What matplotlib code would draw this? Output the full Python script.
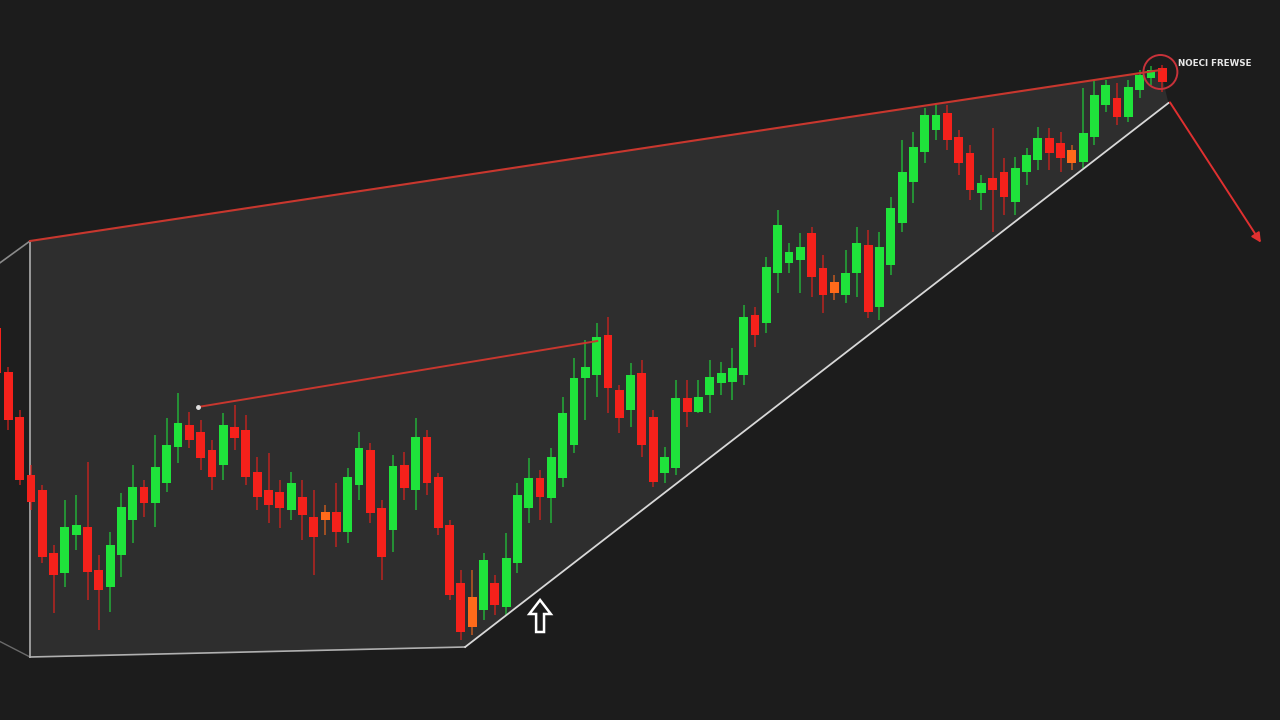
import matplotlib
matplotlib.use("Agg")
from matplotlib import pyplot as plt
from matplotlib.patches import Polygon, Ellipse, FancyArrow
import numpy as np

## candle data (price units), one entry per session
opens = [392, 348, 303, 245, 230, 167, 147, 185, 193, 150, 133, 165, 200, 233, 217, 237, 273, 295, 288, 270,
         255, 293, 290, 248, 230, 228, 210, 223, 203, 208, 208, 188, 235, 270, 212, 190, 255, 230, 283, 243,
         195, 137, 123, 110, 137, 113, 157, 212, 242, 222, 242, 275, 342, 345, 385, 330, 310, 347, 303, 247,
         252, 322, 308, 325, 337, 338, 345, 405, 397, 447, 457, 460, 487, 452, 438, 425, 447, 475, 413, 455,
         497, 538, 568, 590, 607, 583, 567, 527, 542, 548, 518, 548, 560, 582, 577, 570, 558, 583, 615, 622,
         603, 630, 642, 652]
closes = [347, 300, 240, 218, 163, 145, 193, 195, 148, 130, 175, 213, 233, 217, 253, 275, 297, 280, 262, 243,
          295, 282, 243, 223, 215, 212, 237, 205, 183, 200, 188, 243, 272, 207, 163, 254, 232, 283, 237, 192,
          125, 88, 93, 160, 115, 162, 225, 242, 223, 263, 307, 342, 353, 383, 332, 302, 345, 275, 238, 263,
          322, 308, 323, 343, 347, 352, 403, 385, 453, 495, 468, 473, 443, 425, 427, 447, 477, 408, 473, 512,
          548, 573, 605, 605, 580, 557, 530, 537, 530, 523, 552, 565, 582, 567, 562, 557, 587, 625, 635, 603,
          633, 645, 650, 638]
highs = [400, 353, 310, 255, 235, 175, 220, 225, 258, 165, 188, 227, 255, 240, 285, 302, 327, 308, 300, 280,
         307, 315, 305, 263, 267, 240, 248, 240, 230, 215, 237, 252, 288, 277, 220, 265, 268, 302, 290, 247,
         200, 150, 150, 167, 145, 187, 237, 262, 250, 272, 323, 362, 380, 397, 403, 335, 357, 360, 310, 273,
         340, 340, 340, 360, 358, 372, 415, 413, 463, 510, 477, 487, 493, 465, 445, 470, 493, 490, 488, 523,
         580, 588, 612, 615, 615, 590, 575, 545, 592, 562, 563, 572, 593, 592, 588, 575, 632, 640, 640, 637,
         640, 650, 654, 655]
lows = [340, 290, 235, 210, 157, 107, 133, 170, 120, 90, 108, 143, 177, 203, 193, 228, 257, 272, 250, 230,
        240, 270, 235, 210, 197, 192, 200, 180, 145, 185, 173, 177, 220, 197, 140, 168, 220, 210, 225, 185,
        120, 80, 85, 100, 105, 105, 147, 197, 200, 197, 233, 267, 300, 323, 307, 287, 293, 263, 233, 237,
        245, 293, 307, 307, 325, 320, 335, 373, 387, 427, 447, 427, 423, 407, 420, 417, 423, 402, 400, 445,
        488, 517, 557, 580, 570, 545, 520, 510, 488, 505, 505, 535, 550, 550, 548, 550, 552, 575, 608, 595,
        598, 622, 635, 628]
## near-doji sessions drawn in orange
orange_idx = [29, 42, 74, 95]

## chart overlay geometry (session index, price)
wedge_pts = [(2.92, 479), (102.83, 650), (103.54, 617), (41.38, 73), (2.92, 63)]
side_pts = [(0.0, 455), (2.92, 479), (2.92, 63), (0.0, 80)]
inner_line = [(17.77, 313), (53.05, 379)]
circle_center = (102.83, 648)
break_arrow = [(103.54, 620), (111.85, 475)]
up_arrow_base = (48.0, 88)
label_text = "NOECI FREWSE"

BG = "#1c1c1c"
FILL = "#2e2e2e"
GREEN = "#1fe33b"
RED = "#f5211b"
ORANGE = "#ff6a1a"

fig = plt.figure(figsize=(12.8, 7.2), dpi=100, facecolor=BG)
ax = fig.add_axes([0, 0, 1, 1])
ax.set_facecolor(BG)
ax.axis("off")

## wedge shading and outline
ax.add_patch(Polygon(side_pts, closed=True, fc="#1e1e1e", ec="none", zorder=0))
ax.add_patch(Polygon(wedge_pts, closed=True, fc=FILL, ec="none", zorder=0))
ax.plot([side_pts[0][0], side_pts[1][0]], [side_pts[0][1], side_pts[1][1]], color="#8a8a8a", lw=1.2, zorder=1)
ax.plot([side_pts[3][0], side_pts[2][0]], [side_pts[3][1], side_pts[2][1]], color="#6a6a6a", lw=1.0, zorder=1)
ax.plot([wedge_pts[0][0], wedge_pts[4][0]], [wedge_pts[0][1], wedge_pts[4][1]], color="#9a9a9a", lw=1.4, zorder=1)
ax.plot([wedge_pts[4][0], wedge_pts[3][0]], [wedge_pts[4][1], wedge_pts[3][1]], color="#b0b0b0", lw=1.2, zorder=1)
ax.plot([wedge_pts[3][0], wedge_pts[2][0]], [wedge_pts[3][1], wedge_pts[2][1]], color="#d8d8d8", lw=1.3, zorder=4)
ax.plot([wedge_pts[0][0], wedge_pts[1][0]], [wedge_pts[0][1], wedge_pts[1][1]], color="#c8372e", lw=1.5, zorder=4)

## candles
x = np.arange(len(opens))
o = np.array(opens)
c = np.array(closes)
colours = [GREEN if cc >= oo else RED for oo, cc in zip(o, c)]
for k in orange_idx:
    colours[k] = ORANGE
ax.vlines(x, lows, highs, colors=colours, lw=1.1, alpha=0.7, zorder=2)
ax.bar(x, np.abs(c - o), bottom=np.minimum(o, c), width=0.78, color=colours, zorder=3)

## inner resistance line
ax.plot([p[0] for p in inner_line], [p[1] for p in inner_line], color="#c8372e", lw=1.4, zorder=4)
ax.plot(inner_line[0][0], inner_line[0][1], "o", color="#e0e0e0", ms=2.5, zorder=5)

## breakout marks
ax.add_patch(Ellipse(circle_center, width=3.0, height=34, fc="none", ec="#c8323a", lw=1.4, zorder=5))
ax.annotate("", xy=break_arrow[1], xytext=break_arrow[0],
            arrowprops=dict(arrowstyle="-|>", color="#e03030", lw=1.4, mutation_scale=14), zorder=5)
ax.add_patch(FancyArrow(up_arrow_base[0], up_arrow_base[1], 0, 32, width=0.7, head_width=1.9, head_length=14,
                        length_includes_head=True, fc="none", ec="white", lw=1.8, zorder=5))
ax.text(104.4, 657, label_text, color="#e8e8e8", fontsize=6.3, fontweight="bold",
        family="DejaVu Sans", ha="left", va="center", zorder=6)

ax.set_xlim(0.265, 113.4)
ax.set_ylim(0, 720)

fig.savefig("out.png", dpi=100, facecolor=BG)
